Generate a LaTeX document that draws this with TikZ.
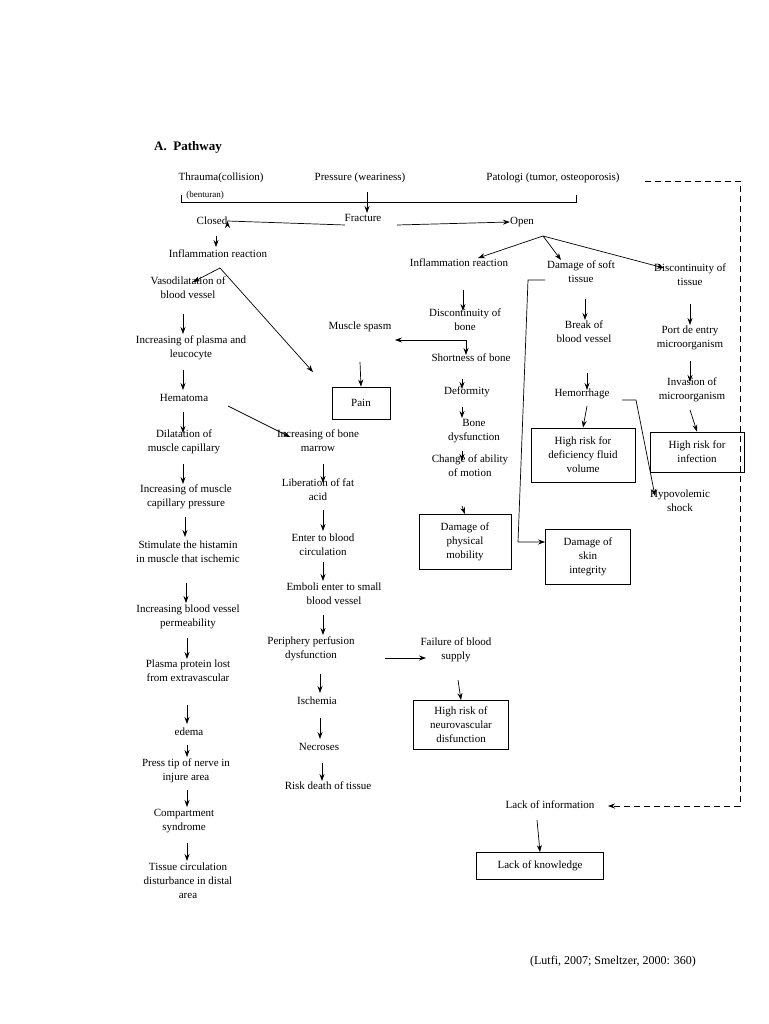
\documentclass[tikz,border=0pt]{standalone}
\usepackage{fontspec}
\setmainfont{Liberation Serif}
\usetikzlibrary{arrows.meta}
\begin{document}
\begin{tikzpicture}[x=1pt,y=-1pt,
  every node/.style={font=\fontsize{11}{14}\selectfont, align=center, inner sep=0pt},
  box/.style={draw, line width=0.8pt, inner sep=3pt},
  arr/.style={-{Stealth[length=7pt,width=5pt]}, line width=0.7pt},
  ln/.style={line width=0.7pt}]
\useasboundingbox (0,0) rectangle (768,1024);
\fill[white] (0,0) rectangle (768,1024);
\node[font=\fontsize{13}{15}\selectfont\bfseries] (title) at (188,147) {A.\enspace Pathway};
% top
\node (thr) at (221,178) {Thrauma(collision)};
\node[font=\fontsize{9}{10}\selectfont] (bent) at (205,195) {(benturan)};
\node (pres) at (360,178) {Pressure (weariness)};
\node (pat) at (553,178) {Patologi (tumor, osteoporosis)};
\fill[white] (160,199) rectangle (600,215);
\coordinate (bl) at (181,195); \coordinate (br) at (576,195);
\draw[ln] (bl) -- (181,202) -- (576,202) -- (br);
\coordinate (pf) at (367,192);
\node (frac) at (363,218) {Fracture};
\draw[arr] (pf) -- (367,213);
\node (closed) at (212,221) {Closed};
\node (open) at (522,222) {Open};
\draw[arr] (345,225) -- (closed.east) ++(0,0);
\draw[arr] (397,225) -- (open.west);
% left column
\node (infl) at (218,254) {Inflammation reaction};
\draw[arr] (216,236) -- (216,247);
\node (vaso) at (188,288) {Vasodilatation of\\blood vessel};
\coordinate (ip) at (220,268);
\draw[arr] (ip) -- (193,282);
\node[box,minimum width=58pt,minimum height=32pt] (pain) at (361,403) {Pain};
\draw[arr] (ip) -- (313,372);
\node (plas) at (191,348) {Increasing of plasma and\\leucocyte};
\draw[arr] (183,314) -- (183,334);
\node (hema) at (184,398) {Hematoma};
\draw[arr] (183,370) -- (183,390);
\node (dil) at (184,442) {Dilatation of\\muscle capillary};
\draw[arr] (183,412) -- (183,433);
\node (imcp) at (186,497) {Increasing of muscle\\capillary pressure};
\draw[arr] (183,464) -- (183,484);
\node (stim) at (188,552) {Stimulate the histamin\\in muscle that ischemic};
\draw[arr] (185,517) -- (185,537);
\node (ibvp) at (188,617) {Increasing blood vessel\\permeability};
\draw[arr] (186,583) -- (186,603);
\node (ppl) at (188,671) {Plasma protein lost\\from extravascular};
\draw[arr] (187,638) -- (187,659);
\node (edema) at (189,732) {edema};
\draw[arr] (187,705) -- (187,724);
\node (press) at (186,771) {Press tip of nerve in\\injure area};
\draw[arr] (187,745) -- (187,757);
\node (comp) at (184,821) {Compartment\\syndrome};
\draw[arr] (187,790) -- (187,807);
\node (tcd) at (188,881) {Tissue circulation\\disturbance in distal\\area};
\draw[arr] (187,843) -- (187,861);
% middle column
\node (spasm) at (360,327) {Muscle spasm};
\draw[arr] (360,362) -- (pain.north);
\node (ibm) at (318,441) {Increasing of bone\\marrow};
\draw[arr] (228,406) -- (290,437);
\node (lib) at (318,490) {Liberation of fat\\acid};
\draw[arr] (323,464) -- (323,483);
\node (ebc) at (323,545) {Enter to blood\\circulation};
\draw[arr] (323,510) -- (323,531);
\node (emb) at (334,594) {Emboli enter to small\\blood vessel};
\draw[arr] (323,562) -- (323,581);
\node (per) at (311,649) {Periphery perfusion\\dysfunction};
\draw[arr] (323,615) -- (323,635);
\node (isch) at (317,701) {Ischemia};
\draw[arr] (320,674) -- (320,693);
\node (necr) at (319,747) {Necroses};
\draw[arr] (320,718) -- (320,739);
\node (risk) at (328,786) {Risk death of tissue};
\draw[arr] (322,763) -- (322,781);
\node (fail) at (456,650) {Failure of blood\\supply};
\draw[arr] (385,658) -- (426,658);
\node[box,minimum width=95pt,minimum height=49pt] (neuro) at (461,725) {High risk of\\neurovascular\\disfunction};
\draw[arr] (458,680) -- (neuro.north);
% right part
\coordinate (os) at (543,236);
\node (infr) at (459,263) {Inflammation reaction};
\node (dst) at (581,272) {Damage of soft\\tissue};
\node (dti) at (690,275) {Discontinuity of\\tissue};
\draw[arr] (os) -- (478,258);
\draw[arr] (os) -- (561,260);
\draw[arr] (os) -- (664,268);
\node (dbone) at (465,320) {Discontinuity of\\bone};
\draw[arr] (463,290) -- (463,311);
\node (short) at (471,358) {Shortness of bone};
\draw[ln] (466,340) -- (465,340);
\draw[arr] (466,340) -- (395,340);
\draw[arr] (466,340) -- (466,355);
\node (def) at (467,392) {Deformity};
\draw[arr] (462,379) -- (462,389);
\node (bdys) at (474,431) {Bone\\dysfunction};
\draw[arr] (462,407) -- (462,418);
\node (chg) at (470,466) {Change of ability\\of motion};
\draw[arr] (462,451) -- (462,461);
\node[box,minimum width=92pt,minimum height=55pt] (mob) at (465,542) {Damage of\\physical\\mobility};
\draw[arr] (462,506) -- (mob.north);
\node[box,minimum width=85pt,minimum height=55pt] (skin) at (588,557) {Damage of\\skin\\integrity};
\draw[arr] (545,280) -- (528,280) -- (518,542) -- (skin.west |- 0,542);
\node (bbv) at (584,332) {Break of\\blood vessel};
\draw[arr] (585,299) -- (585,320);
\node (hem) at (582,394) {Hemorrhage};
\draw[arr] (587,373) -- (587,390);
\node[box,minimum width=104pt,minimum height=54pt] (fluid) at (583,455) {High risk for\\deficiency fluid\\volume};
\draw[arr] (587,406) -- (fluid.north);
\node (hypo) at (680,501) {Hypovolemic\\shock};
\draw[arr] (622,400) -- (636,400) -- (655,496);
\node (port) at (690,338) {Port de entry\\microorganism};
\draw[arr] (690,304) -- (690,325);
\node (inv) at (692,390) {Invasion of\\microorganism};
\draw[arr] (690,361) -- (690,382);
\node[box,minimum width=94pt,minimum height=40pt] (inf) at (697,452) {High risk for\\infection};
\draw[arr] (690,410) -- (inf.north);
% lack of information
\node (loi) at (550,805) {Lack of information};
\node[box,minimum width=127pt,minimum height=27pt] (lok) at (540,866) {Lack of knowledge};
\draw[arr] (537,820) -- (lok.north);
\draw[arr, dashed, dash pattern=on 6pt off 4pt] (645,181) -- (740,181) -- (740,806) -- (608,806);
\node[font=\fontsize{12}{14}\selectfont] (cite) at (613,962) {(Lutfi, 2007; Smeltzer, 2000: 360)};
\end{tikzpicture}
\end{document}
